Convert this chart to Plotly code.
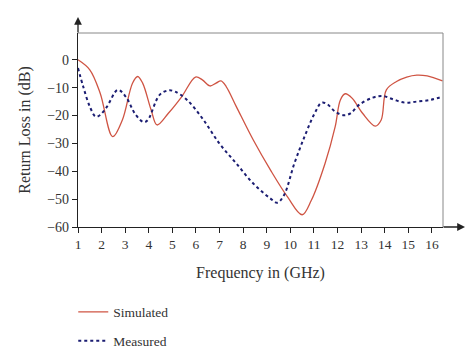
import plotly.graph_objects as go

sim_x = [1, 1.5, 1.94, 2.47, 2.88, 3.31, 3.53, 3.74, 4.1, 4.35, 4.83, 5.4, 5.98, 6.27, 6.59, 6.85, 7.06, 7.28, 7.71, 8.43, 9.16, 9.88, 10.5, 10.89, 11.47, 11.9, 12.12, 12.33, 12.62, 13.06, 13.6, 13.85, 14.07, 14.5, 14.93, 15.36, 15.8, 16.45]
sim_y = [0, -3.6, -12, -27.6, -21.6, -8.4, -6, -8.4, -18, -23.4, -19.2, -13.2, -6.2, -7.2, -9.4, -8.4, -7.6, -9.6, -16.8, -28.8, -39.6, -49.2, -55.6, -50.4, -37.2, -24, -14.4, -12.2, -13.8, -19.2, -23.8, -21.6, -10.8, -7.8, -6.2, -5.5, -5.8, -7.6]

meas_x = [1, 1.22, 1.5, 1.75, 1.94, 2.23, 2.69, 3.02, 3.45, 3.79, 3.96, 4.46, 4.83, 5.11, 5.62, 6.27, 6.99, 7.71, 8.43, 9.16, 9.45, 9.73, 10.17, 10.6, 11.03, 11.32, 11.54, 11.9, 12.26, 12.55, 12.91, 13.49, 13.92, 14.35, 14.86, 15.36, 15.94, 16.45]
meas_y = [-3, -9.6, -16.8, -20.4, -19.8, -16.8, -10.8, -13.2, -19.8, -22.4, -21.6, -12.6, -11, -11.4, -14.4, -21, -30, -37.2, -44.4, -49.8, -51.3, -48.6, -37.2, -27.6, -19.2, -15.4, -15.8, -18.6, -19.9, -19.2, -16.2, -13.6, -13, -14.2, -15.4, -15, -14.4, -13.2]

x_ticks = list(range(1, 17))
y_ticks = [0, -10, -20, -30, -40, -50, -60]
y_labels = ["0", "\u221210", "\u221220", "\u221230", "\u221240", "\u221250", "\u221260"]

FONT = "Liberation Serif"
# page body has an 8px margin; compensate so the plot lands at the reference spot
W, H = 466, 354
ML, MR, MT, MB = 70, 31, 25, 135
PLOT_W = W - ML - MR
PLOT_H = H - MT - MB

fig = go.Figure()
fig.add_trace(go.Scatter(x=sim_x, y=sim_y, mode="lines", name="Simulated",
                         line=dict(color="#cf5443", width=1.3, shape="spline", smoothing=1.0),
                         legend="legend"))
fig.add_trace(go.Scatter(x=meas_x, y=meas_y, mode="lines", name="Measured",
                         line=dict(color="#1b1d72", width=2, dash="dot", shape="spline", smoothing=1.0),
                         legend="legend2"))

fig.update_layout(
    width=W, height=H,
    margin=dict(l=ML, r=MR, t=MT, b=MB, autoexpand=False),
    paper_bgcolor="white", plot_bgcolor="white",
    showlegend=True,
    font=dict(family=FONT, size=13, color="#333333"),
    xaxis=dict(range=[1, 16.47], tickvals=x_ticks, showgrid=False, zeroline=False,
               showline=True, linecolor="#222222", linewidth=1.3, automargin=False,
               ticks="outside", ticklen=5, tickcolor="#222222",
               tickfont=dict(size=13.5),
               title=dict(text="Frequency in (GHz)", standoff=15)),
    yaxis=dict(range=[-60, 9.6], tickvals=y_ticks, ticktext=y_labels, showgrid=False, zeroline=False,
               showline=True, linecolor="#222222", linewidth=1.3, automargin=False,
               ticks="outside", ticklen=5, tickcolor="#222222",
               tickfont=dict(size=14),
               title=dict(text="Return Loss in (dB)", standoff=12)),
    legend=dict(x=-0.013, y=(PLOT_H - (312 - 8 - MT)) / PLOT_H,
                xanchor="left", yanchor="middle", bgcolor="rgba(0,0,0,0)",
                font=dict(family=FONT, size=13.5, color="#333333")),
    legend2=dict(x=-0.013, y=(PLOT_H - (341 - 8 - MT)) / PLOT_H,
                 xanchor="left", yanchor="middle", bgcolor="rgba(0,0,0,0)",
                 font=dict(family=FONT, size=13.5, color="#333333")),
)

# top and right frame lines
fig.add_shape(type="line", xref="paper", yref="paper", x0=0, x1=1, y0=1, y1=1,
              line=dict(color="#888888", width=1))
fig.add_shape(type="line", xref="paper", yref="paper", x0=1, x1=1, y0=0, y1=1,
              line=dict(color="#888888", width=1))

# axis arrows
fig.add_annotation(xref="paper", yref="paper", x=0, y=1 + 16 / PLOT_H, ax=0, ay=17, text="",
                   showarrow=True, arrowhead=2, arrowsize=1.2, arrowwidth=1.3, arrowcolor="#222222")
fig.add_annotation(xref="paper", yref="paper", x=1 + 22 / PLOT_W, y=0, ax=-23, ay=0, text="",
                   showarrow=True, arrowhead=2, arrowsize=1.2, arrowwidth=1.3, arrowcolor="#222222")

fig.write_html("out.html")
